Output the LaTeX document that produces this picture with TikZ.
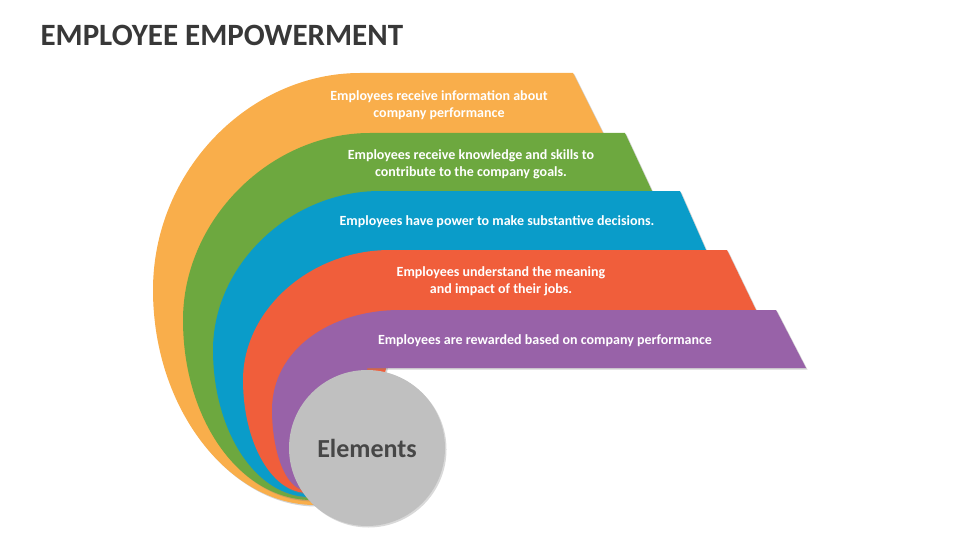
\documentclass[tikz,border=0pt]{standalone}
\usepackage{fontspec}
\setmainfont{Carlito}
\usetikzlibrary{shadows}
\definecolor{cor}{HTML}{F9AE4B}
\definecolor{cgr}{HTML}{6DA83F}
\definecolor{cbl}{HTML}{0A9CC9}
\definecolor{cre}{HTML}{F05E3B}
\definecolor{cpu}{HTML}{9862A8}
\definecolor{ccir}{HTML}{C0C0C0}
\begin{document}
\begin{tikzpicture}[x=1pt,y=-1pt,
  band/.style={fill=#1,draw=none,drop shadow={opacity=0.35,shadow xshift=1.5pt,shadow yshift=-1.5pt}},
  btxt/.style={text=white,font=\fontsize{14}{17}\selectfont\bfseries,align=center}]
\useasboundingbox (0,0) rectangle (960,540);
\node[anchor=west,text=black!78,font=\fontsize{31}{36}\selectfont\bfseries] (title) at (37,35) {EMPLOYEE EMPOWERMENT};
% orange
\path[band=cor] (367,448) -- (315,505) .. controls (230,505) and (153,410) .. (153,290)
  .. controls (153,170) and (250,73) .. (360,73) -- (573,73) -- (603,133) -- (370,133) -- cycle;
% green
\path[band=cgr] (367,448) -- (312,500) .. controls (240,500) and (183,420) .. (183,320)
  .. controls (183,220) and (270,133) .. (370,133) -- (625,133) -- (652,191) -- (380,191) -- cycle;
% blue
\path[band=cbl] (367,448) -- (310,497) .. controls (255,497) and (213,430) .. (213,350)
  .. controls (213,265) and (290,191) .. (380,191) -- (680,191) -- (706,250) -- (390,250) -- cycle;
% red
\path[band=cre] (367,448) -- (308,493) .. controls (270,493) and (243,440) .. (243,380)
  .. controls (243,310) and (310,250) .. (390,250) -- (727,250) -- (756,310) -- (400,310) -- cycle;
% purple
\path[band=cpu] (367,448) -- (306,490) .. controls (285,490) and (272,450) .. (272,410)
  .. controls (272,350) and (330,310) .. (400,310) -- (776,310) -- (806,368) -- (367,368) -- cycle;
\node[circle,fill=ccir,minimum size=156pt,inner sep=0pt,drop shadow={opacity=0.3,shadow xshift=1.5pt,shadow yshift=-1.5pt},
  text=black!72,font=\fontsize{26}{30}\selectfont\bfseries] (el) at (367,448) {Elements};
\node[btxt] (t1) at (439,105) {Employees receive information about\\company performance};
\node[btxt] (t2) at (471,164) {Employees receive knowledge and skills to\\contribute to the company goals.};
\node[btxt] (t3) at (497,222) {Employees have power to make substantive decisions.};
\node[btxt] (t4) at (501,281) {Employees understand the meaning\\and impact of their jobs.};
\node[btxt] (t5) at (545,341) {Employees are rewarded based on company performance};
\end{tikzpicture}
\end{document}
